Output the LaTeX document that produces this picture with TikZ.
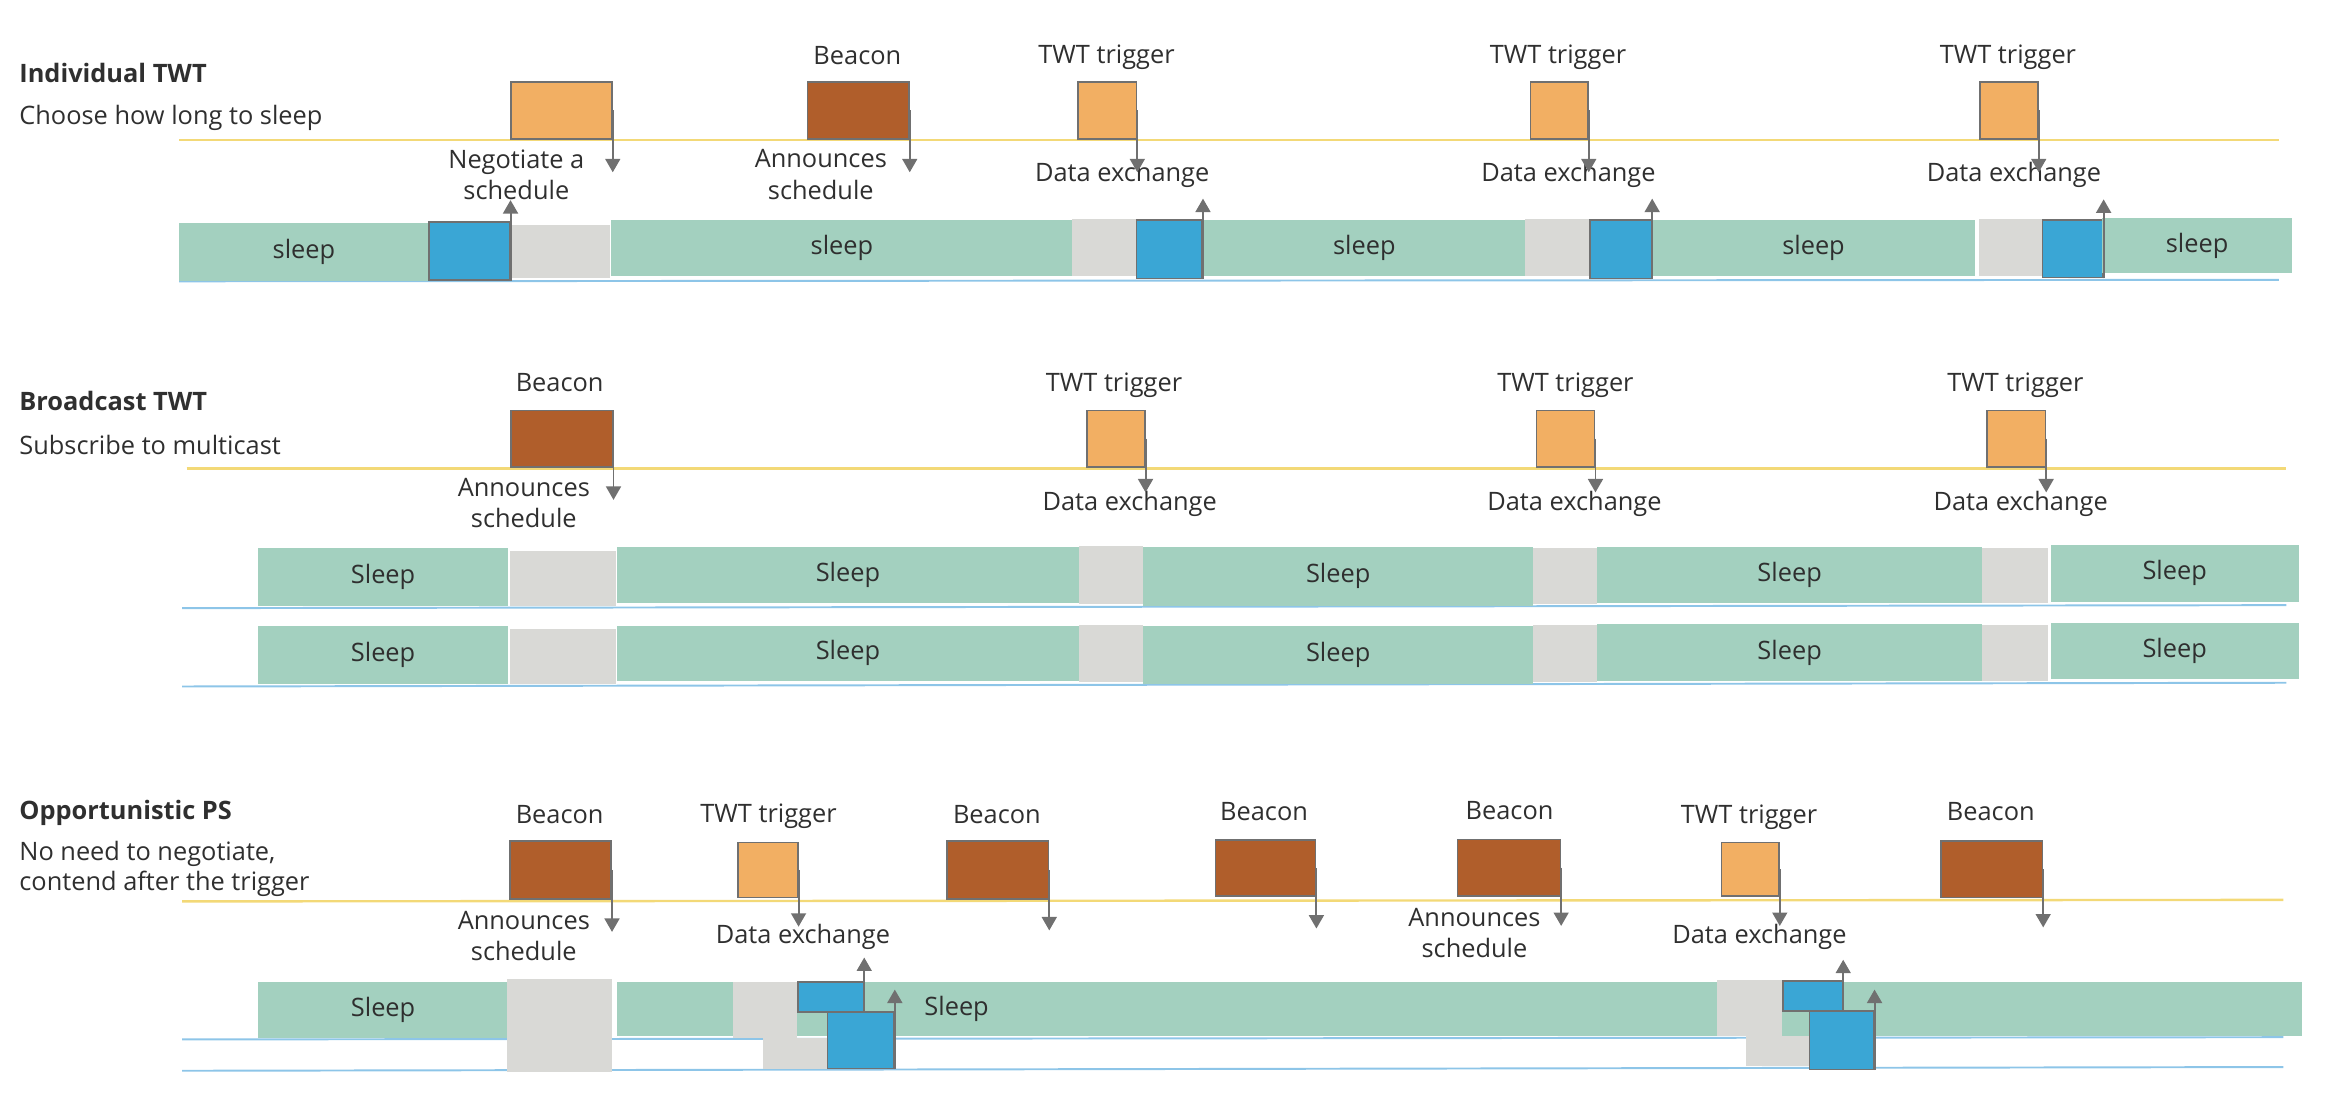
\documentclass[tikz,border=0pt]{standalone}
\usepackage{fontspec}
\setmainfont{Open Sans}
\usetikzlibrary{arrows.meta}
\definecolor{sleepgreen}{HTML}{A3D0BF}
\definecolor{idlegray}{HTML}{D9D9D6}
\definecolor{txblue}{HTML}{3AA6D5}
\definecolor{trigorange}{HTML}{F2AF63}
\definecolor{bcnbrown}{HTML}{B05E2B}
\definecolor{edgegray}{HTML}{707070}
\definecolor{lineyellow}{HTML}{F3D977}
\definecolor{lineblue}{HTML}{8DC5E8}
\definecolor{txtdark}{HTML}{2F2F2F}
\begin{document}
\begin{tikzpicture}[x=1pt,y=-1pt,
  lbl/.style={font=\fontsize{17}{21}\selectfont,text=txtdark,align=center,inner sep=0pt},
  ttl/.style={font=\bfseries\fontsize{17}{21}\selectfont,text=txtdark,anchor=west,inner sep=0pt},
  sub/.style={font=\fontsize{17}{20}\selectfont,text=txtdark,anchor=west,align=left,inner sep=0pt},
  frame/.style={draw=edgegray,line width=1.1pt,inner sep=0pt,anchor=south west,minimum height=38pt},
  trig/.style={frame,fill=trigorange},
  bcn/.style={frame,fill=bcnbrown},
  sleepbar/.style={fill=sleepgreen,inner sep=0pt,anchor=north west,font=\fontsize{17}{21}\selectfont,text=txtdark},
  idle/.style={fill=idlegray},
  tx/.style={fill=txblue,draw=edgegray,line width=1.1pt,inner sep=0pt,anchor=north west},
  arr/.style={draw=edgegray,line width=1.3pt,-{Triangle[width=10pt,length=9pt]}},
  tline/.style={draw=lineyellow,line width=1.6pt},
  wline/.style={draw=lineblue,line width=1.3pt}]
\path[use as bounding box] (0,0) rectangle (1568,739);
\node[ttl] (t1) at (12.8,49) {Individual TWT};
\node[sub] (t1s) at (12.8,79) {Choose how long to sleep};
\draw[tline] (120,94)--(1527,94);
\draw[wline] (120,188.5)--(1527,187.5);
\node[trig,minimum width=67.5pt] (neg) at (342,93.5) {};
\node[bcn,minimum width=68pt] (b1) at (540.5,93.5) {};
\node[trig,minimum width=39pt] (g1a) at (722,93.5) {};
\node[trig,minimum width=38.5pt] (g1b) at (1025,93.5) {};
\node[trig,minimum width=39pt] (g1c) at (1326,93.5) {};
\node[lbl] (lb1) at (574.5,37) {Beacon};
\node[lbl] (lg1a) at (741.5,38.5) {TWT trigger};
\node[lbl] (lg1b) at (1044,38.5) {TWT trigger};
\node[lbl] (lg1c) at (1345.5,38.5) {TWT trigger};
\node[lbl] (ln) at (346,117) {Negotiate a\\schedule};
\node[lbl] (la1) at (550,117) {Announces\\schedule};
\node[lbl] (ld1a) at (752,117.5) {Data exchange};
\node[lbl] (ld1b) at (1051,117.5) {Data exchange};
\node[lbl] (ld1c) at (1349.5,117.5) {Data exchange};
\node[sleepbar,minimum width=167pt,minimum height=39pt] (s1a) at (120,149) {sleep};
\node[tx,minimum width=54pt,minimum height=39pt] (x1a) at (287,148) {};
\fill[idle] (342,151) rectangle (409,186);
\node[sleepbar,minimum width=309pt,minimum height=38pt] (s1b) at (409.5,147) {sleep};
\fill[idle] (718,147) rectangle (761,185);
\node[tx,minimum width=44pt,minimum height=39pt] (x1b) at (761,147) {};
\node[sleepbar,minimum width=216pt,minimum height=38pt] (s1c) at (806,147) {sleep};
\fill[idle] (1022,147) rectangle (1065,185);
\node[tx,minimum width=41pt,minimum height=39pt] (x1c) at (1065,147) {};
\node[sleepbar,minimum width=217pt,minimum height=38pt] (s1d) at (1106.5,147) {sleep};
\fill[idle] (1326,147) rectangle (1368,185);
\node[tx,minimum width=40.5pt,minimum height=38.5pt] (x1d) at (1368,147) {};
\node[sleepbar,minimum width=127pt,minimum height=37pt] (s1e) at (1408.5,146) {sleep};
\draw[arr] (neg.east)--++(0,41.5);
\draw[arr] (b1.east)--++(0,41.5);
\draw[arr] (g1a.east)--++(0,41.5);
\draw[arr] (g1b.east)--++(0,41.5);
\draw[arr] (g1c.east)--++(0,41.5);
\draw[arr] (x1a.south east)--++(0,-54);
\draw[arr] (x1b.south east)--++(0,-54);
\draw[arr] (x1c.south east)--++(0,-54);
\draw[arr] (x1d.south east)--++(0,-53);
\node[ttl] (t2) at (12.8,269) {Broadcast TWT};
\node[sub] (t2s) at (12.8,298) {Subscribe to multicast};
\draw[tline] (125,314)--(1532,314);
\draw[wline] (122,407.5)--(1532,405.5);
\draw[wline] (122,460)--(1532,457.5);
\node[bcn,minimum width=68pt] (b2) at (342,313.5) {};
\node[trig,minimum width=38.5pt] (g2a) at (728,313.5) {};
\node[trig,minimum width=39pt] (g2b) at (1029,313.5) {};
\node[trig,minimum width=39pt] (g2c) at (1331,313.5) {};
\node[lbl] (lb2) at (375,256.5) {Beacon};
\node[lbl] (lg2a) at (746.5,258) {TWT trigger};
\node[lbl] (lg2b) at (1049,258) {TWT trigger};
\node[lbl] (lg2c) at (1350.5,258) {TWT trigger};
\node[lbl] (la2) at (351,337) {Announces\\schedule};
\node[lbl] (ld2a) at (757,337.5) {Data exchange};
\node[lbl] (ld2b) at (1055,337.5) {Data exchange};
\node[lbl] (ld2c) at (1354,337.5) {Data exchange};
\node[sleepbar,minimum width=167pt,minimum height=39pt] (s2a) at (173,367) {Sleep};
\fill[idle] (342,369) rectangle (413,406);
\node[sleepbar,minimum width=310pt,minimum height=38pt] (s2b) at (413,366) {Sleep};
\fill[idle] (723,366) rectangle (766,405);
\node[sleepbar,minimum width=261pt,minimum height=40pt] (s2c) at (766,366) {Sleep};
\fill[idle] (1027,367) rectangle (1070,405);
\node[sleepbar,minimum width=258pt,minimum height=38pt] (s2d) at (1070,366) {Sleep};
\fill[idle] (1328,367) rectangle (1372,404);
\node[sleepbar,minimum width=166pt,minimum height=38pt] (s2e) at (1374,365) {Sleep};
\node[sleepbar,minimum width=167pt,minimum height=38.5pt] (s2f) at (173,419.5) {Sleep};
\fill[idle] (342,421.5) rectangle (413,458);
\node[sleepbar,minimum width=310pt,minimum height=37pt] (s2g) at (413,419) {Sleep};
\fill[idle] (723,419) rectangle (766,457);
\node[sleepbar,minimum width=261pt,minimum height=39pt] (s2h) at (766,419) {Sleep};
\fill[idle] (1027,419) rectangle (1070,457);
\node[sleepbar,minimum width=258pt,minimum height=38pt] (s2i) at (1070,418) {Sleep};
\fill[idle] (1328,419) rectangle (1372,456);
\node[sleepbar,minimum width=166pt,minimum height=38pt] (s2j) at (1374,417) {Sleep};
\draw[arr] (b2.east)--++(0,41);
\draw[arr] (g2a.east)--++(0,36);
\draw[arr] (g2b.east)--++(0,36);
\draw[arr] (g2c.east)--++(0,36);
\node[ttl] (t3) at (12.8,545) {Opportunistic PS};
\node[sub] (t3s) at (12.8,582) {No need to negotiate,\\contend after the trigger};
\draw[tline] (122,604)--(1530,603);
\draw[wline] (122,696.5)--(1530,695);
\draw[wline] (122,717.5)--(1530,715);
\node[bcn,minimum width=68pt,minimum height=39pt] (b3a) at (341,603) {};
\node[trig,minimum width=40pt,minimum height=37pt] (g3a) at (494,602) {};
\node[bcn,minimum width=68pt,minimum height=39pt] (b3b) at (634,603) {};
\node[bcn,minimum width=67pt,minimum height=37.5pt] (b3c) at (814,601) {};
\node[bcn,minimum width=69pt,minimum height=38pt] (b3d) at (976,601) {};
\node[trig,minimum width=38.5pt,minimum height=36pt] (g3b) at (1153,601) {};
\node[bcn,minimum width=68pt,minimum height=38pt] (b3e) at (1300,602) {};
\node[lbl] (lb3a) at (375,546) {Beacon};
\node[lbl] (lg3a) at (515,547) {TWT trigger};
\node[lbl] (lb3b) at (668,546) {Beacon};
\node[lbl] (lb3c) at (847,544) {Beacon};
\node[lbl] (lb3d) at (1011.5,543) {Beacon};
\node[lbl] (lg3b) at (1172,547.5) {TWT trigger};
\node[lbl] (lb3e) at (1334,544) {Beacon};
\node[lbl] (la3a) at (351,627) {Announces\\schedule};
\node[lbl] (ld3a) at (538,628) {Data exchange};
\node[lbl] (la3b) at (988,625) {Announces\\schedule};
\node[lbl] (ld3b) at (1179,627.5) {Data exchange};
\node[sleepbar,minimum width=167pt,minimum height=38pt] (s3a) at (173,657.5) {Sleep};
\fill[idle] (340,656) rectangle (410,718);
\node[sleepbar,minimum width=1129pt,minimum height=36.5pt] (s3b) at (413,657.5) {};
\node[lbl] (ls3) at (641,676) {Sleep};
\fill[idle] (491,658) rectangle (534,695.6);
\fill[idle] (511,695.6) rectangle (554,716);
\node[tx,minimum width=44pt,minimum height=20pt] (x3a) at (534,657.5) {};
\node[tx,minimum width=44.5pt,minimum height=38pt] (x3b) at (554,677.5) {};
\fill[idle] (1150.5,657) rectangle (1194,694);
\fill[idle] (1170,694) rectangle (1212,714);
\node[tx,minimum width=40pt,minimum height=20pt] (x3c) at (1194,657) {};
\node[tx,minimum width=43pt,minimum height=39pt] (x3d) at (1212,677) {};
\draw[arr] (b3a.east)--++(0,41.5);
\draw[arr] (g3a.east)--++(0,38);
\draw[arr] (b3b.east)--++(0,40.5);
\draw[arr] (b3c.east)--++(0,40.5);
\draw[arr] (b3d.east)--++(0,39);
\draw[arr] (g3b.east)--++(0,38);
\draw[arr] (b3e.east)--++(0,39);
\draw[arr] (x3a.south east)--++(0,-37);
\draw[arr] (x3b.south east)--++(0,-53.5);
\draw[arr] (x3c.south east)--++(0,-35);
\draw[arr] (x3d.south east)--++(0,-54);
\end{tikzpicture}
\end{document}
